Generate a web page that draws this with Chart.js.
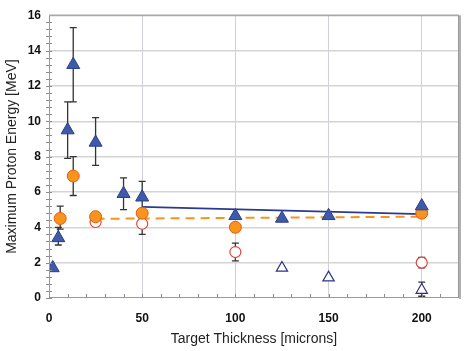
<!DOCTYPE html>
<html>
<head>
<meta charset="utf-8">
<script src="https://cdn.jsdelivr.net/npm/chart.js@4"></script>
<style>
html, body { margin: 0; padding: 0; background: #fff; }
#wrap { width: 474px; height: 351px; }
</style>
</head>
<body>
<div id="wrap"><canvas id="protonChart"></canvas></div>
<script>
// filled triangles
const triX = [2, 5, 10, 13, 25, 40, 50, 100, 125, 150, 200];
const triY = [1.7, 3.4, 9.5, 13.2, 8.8, 5.9, 5.7, 4.65, 4.5, 4.65, 5.2];
const triLo = [null, 3.0, 7.9, 11.1, 7.5, 5.0, 4.8, null, null, null, null];
const triHi = [null, 4.0, 11.1, 15.3, 10.2, 6.8, 6.6, null, null, null, null];

// filled orange circles
const circX = [6, 13, 25, 50, 100, 200];
const circY = [4.5, 6.9, 4.6, 4.8, 4.0, 4.8];
const circLo = [3.9, 5.8, null, null, null, null];
const circHi = [5.2, 8.0, null, null, null, null];

// open circles
const openCircX = [25, 50, 100, 200];
const openCircY = [4.3, 4.2, 2.6, 2.0];
const openCircLo = [4.05, 3.6, 2.1, 1.7];
const openCircHi = [4.5, 4.5, 3.1, 2.3];

// open triangles
const openTriX = [125, 150, 200];
const openTriY = [1.7, 1.15, 0.45];
const openTriLo = [null, null, 0.1];
const openTriHi = [null, null, 0.9];

// fit lines
const blueFitX = [50, 200];
const blueFitY = [5.15, 4.75];
const orangeFitX = [25, 200];
const orangeFitY = [4.48, 4.6];

const xTicks = [0, 50, 100, 150, 200];
const yTicks = [0, 2, 4, 6, 8, 10, 12, 14, 16];

function pts(xs, ys) {
    return xs.map((x, i) => ({ x: x, y: ys[i] }));
}

const errorBars = {
    id: "errorBars",
    beforeDatasetsDraw(chart) {
        const ctx = chart.ctx;
        const xs = chart.scales.x, ys = chart.scales.y;
        const sets = [
            [triX, triLo, triHi],
            [circX, circLo, circHi],
            [openCircX, openCircLo, openCircHi],
            [openTriX, openTriLo, openTriHi],
        ];
        ctx.save();
        ctx.strokeStyle = "#333333";
        ctx.lineWidth = 1.3;
        sets.forEach(([xv, lo, hi]) => {
            xv.forEach((x, i) => {
                if (lo[i] == null) return;
                const px = xs.getPixelForValue(x);
                const p1 = ys.getPixelForValue(lo[i]);
                const p2 = ys.getPixelForValue(hi[i]);
                ctx.beginPath();
                ctx.moveTo(px, p1); ctx.lineTo(px, p2);
                ctx.moveTo(px - 3.5, p1); ctx.lineTo(px + 3.5, p1);
                ctx.moveTo(px - 3.5, p2); ctx.lineTo(px + 3.5, p2);
                ctx.stroke();
            });
        });
        ctx.restore();
    },
    afterDraw(chart) {
        const ctx = chart.ctx;
        const a = chart.chartArea;
        const xs = chart.scales.x, ys = chart.scales.y;
        ctx.save();
        ctx.strokeStyle = "#8c8c8c";
        ctx.lineWidth = 1;
        // minor ticks
        ctx.beginPath();
        for (let v = 0; v <= 16; v += 0.4) {
            const py = Math.round(ys.getPixelForValue(v)) + 0.5;
            ctx.moveTo(a.left - 3, py); ctx.lineTo(a.left + 3, py);
        }
        for (let v = 10; v <= 220; v += 10) {
            const px = Math.round(xs.getPixelForValue(v)) + 0.5;
            ctx.moveTo(px, a.bottom); ctx.lineTo(px, a.bottom - 4);
        }
        ctx.stroke();
        // frame
        ctx.strokeStyle = "#999999";
        ctx.strokeRect(a.left + 0.5, a.top + 0.5, a.width - 1, a.height - 1);
        ctx.strokeStyle = "#b0b0b0";
        ctx.lineWidth = 2;
        ctx.beginPath();
        ctx.moveTo(a.right + 1, a.top); ctx.lineTo(a.right + 1, a.bottom + 1);
        ctx.stroke();
        ctx.restore();
    },
};

const ctx = document.getElementById("protonChart");

new Chart(ctx, {
    type: "scatter",
    data: {
        datasets: [
            {
                label: "blue fit",
                data: pts(blueFitX, blueFitY),
                showLine: true,
                pointRadius: 0,
                borderColor: "#2b3990",
                borderWidth: 1.8,
                order: 5,
            },
            {
                label: "orange fit",
                data: pts(orangeFitX, orangeFitY),
                showLine: true,
                pointRadius: 0,
                borderColor: "#f7941d",
                borderDash: [9, 6],
                borderWidth: 2,
                order: 4,
            },
            {
                label: "open circles",
                data: pts(openCircX, openCircY),
                pointStyle: "circle",
                pointRadius: 5.5,
                backgroundColor: "#ffffff",
                borderColor: "#e0453a",
                borderWidth: 1.2,
                order: 3,
            },
            {
                label: "open triangles",
                data: pts(openTriX, openTriY),
                pointStyle: "triangle",
                pointRadius: 6.5,
                backgroundColor: "#ffffff",
                borderColor: "#2e3380",
                borderWidth: 1.2,
                order: 3,
            },
            {
                label: "orange circles",
                data: pts(circX, circY),
                pointStyle: "circle",
                pointRadius: 6,
                backgroundColor: "#f7941d",
                borderColor: "#e35d12",
                borderWidth: 1,
                order: 2,
            },
            {
                label: "triangles",
                data: pts(triX, triY),
                pointStyle: "triangle",
                pointRadius: 7.5,
                backgroundColor: "#3f5aa8",
                borderColor: "#2b3f8c",
                borderWidth: 1,
                order: 1,
            },
        ],
    },
    options: {
        responsive: true,
        maintainAspectRatio: false,
        animation: false,
        layout: { padding: { left: 0, top: 7, right: 15, bottom: 0 } },
        plugins: {
            legend: { display: false },
            tooltip: { enabled: false },
        },
        scales: {
            x: {
                type: "linear",
                min: 0,
                max: 220,
                afterBuildTicks: (s) => { s.ticks = xTicks.map((v) => ({ value: v })); },
                afterFit: (s) => { s.height = 53; },
                ticks: {
                    color: "#111",
                    font: { family: "Liberation Sans, Arial", size: 12, weight: "bold" },
                    padding: 13,
                },
                grid: { color: (c) => (c.tick.value === 0 ? "rgba(0,0,0,0)" : "#d0d0d8"), drawTicks: false },
                border: { display: false },
                title: {
                    display: true,
                    text: "Target Thickness [microns]",
                    color: "#222",
                    font: { family: "Liberation Sans, Arial", size: 14 },
                    padding: { top: 2, bottom: 3 },
                },
            },
            y: {
                min: 0,
                max: 16,
                afterBuildTicks: (s) => { s.ticks = yTicks.map((v) => ({ value: v })); },
                afterFit: (s) => { s.width = 49; },
                ticks: {
                    color: "#111",
                    font: { family: "Liberation Sans, Arial", size: 12, weight: "bold" },
                    padding: 8,
                },
                grid: { color: (c) => (c.tick.value === 0 ? "rgba(0,0,0,0)" : "#d4d4d4"), lineWidth: 1.5, drawTicks: false },
                border: { display: false },
                title: {
                    display: true,
                    text: "Maximum Proton Energy [MeV]",
                    color: "#222",
                    font: { family: "Liberation Sans, Arial", size: 14 },
                    padding: { top: 4, bottom: 0 },
                },
            },
        },
    },
    plugins: [errorBars],
});
</script>
</body>
</html>
